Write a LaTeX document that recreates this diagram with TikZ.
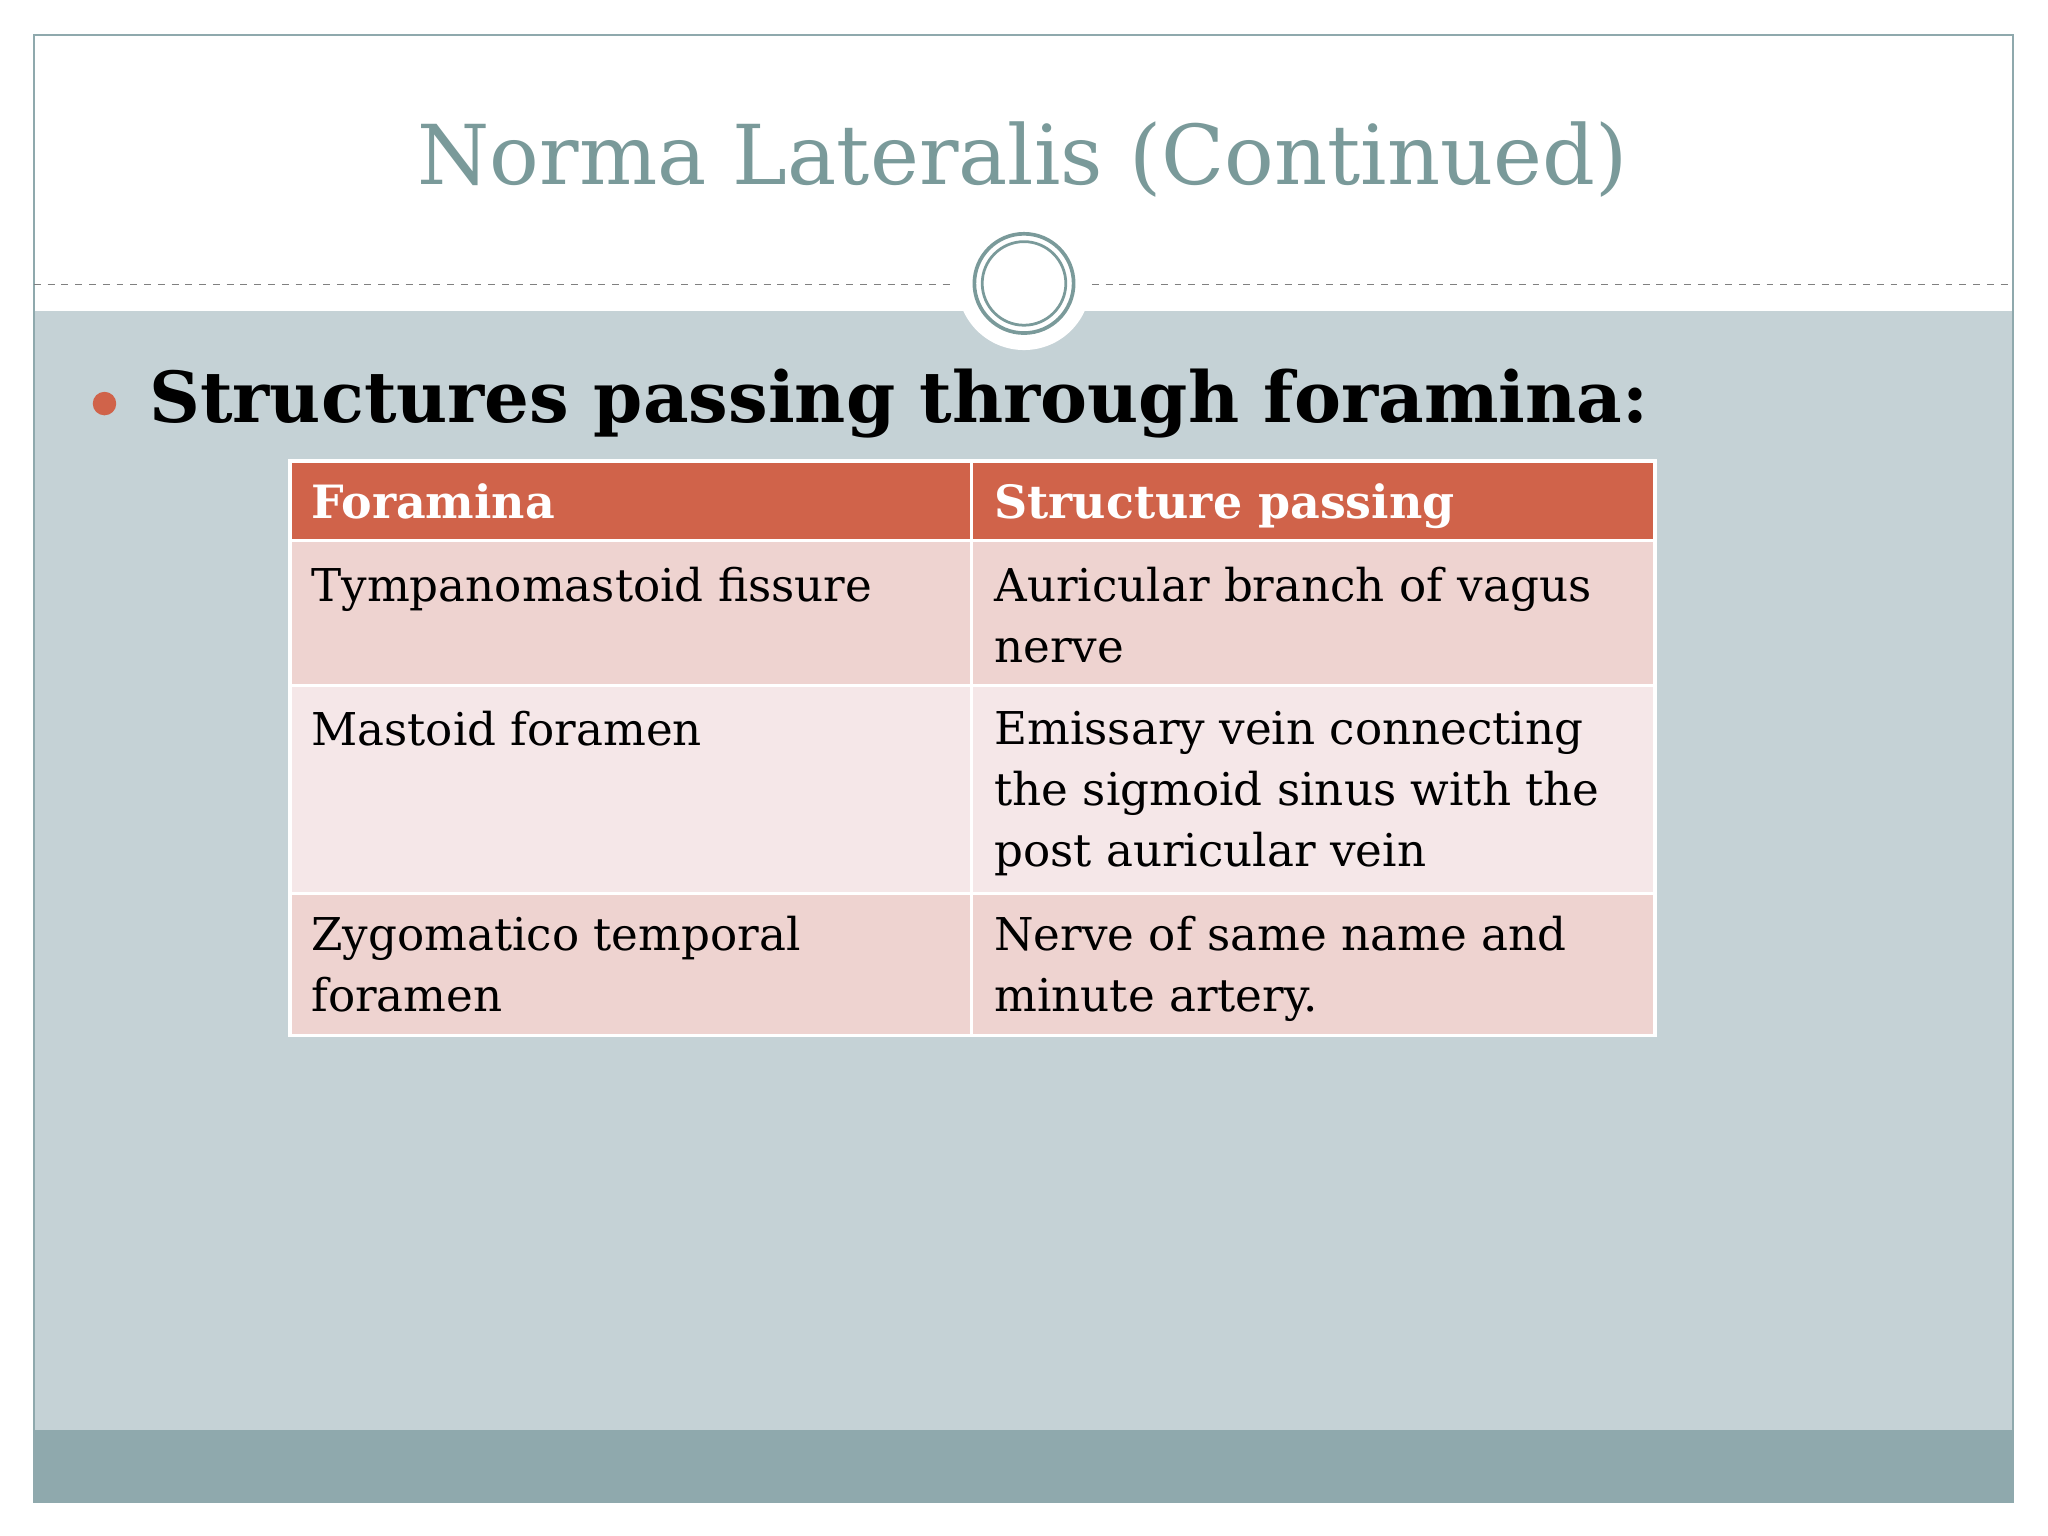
\documentclass[tikz,border=0pt]{standalone}
\usepackage{fontspec}
\setmainfont{DejaVu Serif}
\definecolor{frame}{HTML}{8FA9AD}
\definecolor{bgblue}{HTML}{C5D2D6}
\definecolor{titlec}{HTML}{7A9A9A}
\definecolor{hdr}{HTML}{D0634A}
\definecolor{rowa}{HTML}{EED3D0}
\definecolor{rowb}{HTML}{F5E7E8}
\tikzset{cell/.style={anchor=north west,align=left,inner sep=0pt,font=\fontsize{19.7}{26.6}\selectfont},
hcell/.style={cell,font=\fontsize{20}{26.6}\selectfont\bfseries,text=white}}
\begin{document}
\begin{tikzpicture}[x=0.02cm,y=-0.02cm]
\useasboundingbox (0,0) rectangle (1568,1176);
\fill[white] (0,0) rectangle (1568,1176);
\fill[bgblue] (26,238) rectangle (1541,1095);
\fill[frame] (26,1095) rectangle (1541,1150);
\draw[frame,line width=0.8pt] (26,27) rectangle (1541,1150);
\draw[gray,dashed,line width=0.6pt] (26,218) -- (730,218);
\draw[gray,dashed,line width=0.6pt] (836,218) -- (1541,218);
\fill[white] (784,217) circle (51);
\draw[titlec,line width=1.6pt] (784,217) circle (38);
\draw[titlec,line width=1.2pt] (784,217) circle (32);
\node (title) at (783,122) {\fontsize{36}{44}\selectfont\color{titlec}Norma Lateralis (Continued)};
\fill[hdr] (80,309) circle (9);
\node[anchor=west,inner sep=0pt] (bul) at (114,309) {\fontsize{30.7}{36}\selectfont\bfseries Structures passing through foramina:};
\fill[hdr] (222,353) rectangle (1267,414);
\fill[rowa] (222,414) rectangle (1267,525);
\fill[rowb] (222,525) rectangle (1267,684);
\fill[rowa] (222,684) rectangle (1267,793);
\draw[white,line width=1.5pt] (222,353) rectangle (1267,793) (744,353) -- (744,793)
 (222,414) -- (1267,414) (222,525) -- (1267,525) (222,684) -- (1267,684);
\node[hcell] (h1) at (238,370) {Foramina};
\node[hcell] (h2) at (761,370) {Structure passing};
\node[cell] (a1) at (238,434) {Tympanomastoid fissure};
\node[cell] (b1) at (761,434) {Auricular branch of vagus\\nerve};
\node[cell] (a2) at (238,544) {Mastoid foramen};
\node[cell] (b2) at (761,544) {Emissary vein connecting\\the sigmoid sinus with the\\post auricular vein};
\node[cell] (a3) at (238,701) {Zygomatico temporal\\foramen};
\node[cell] (b3) at (761,701) {Nerve of same name and\\minute artery.};
\end{tikzpicture}
\end{document}
